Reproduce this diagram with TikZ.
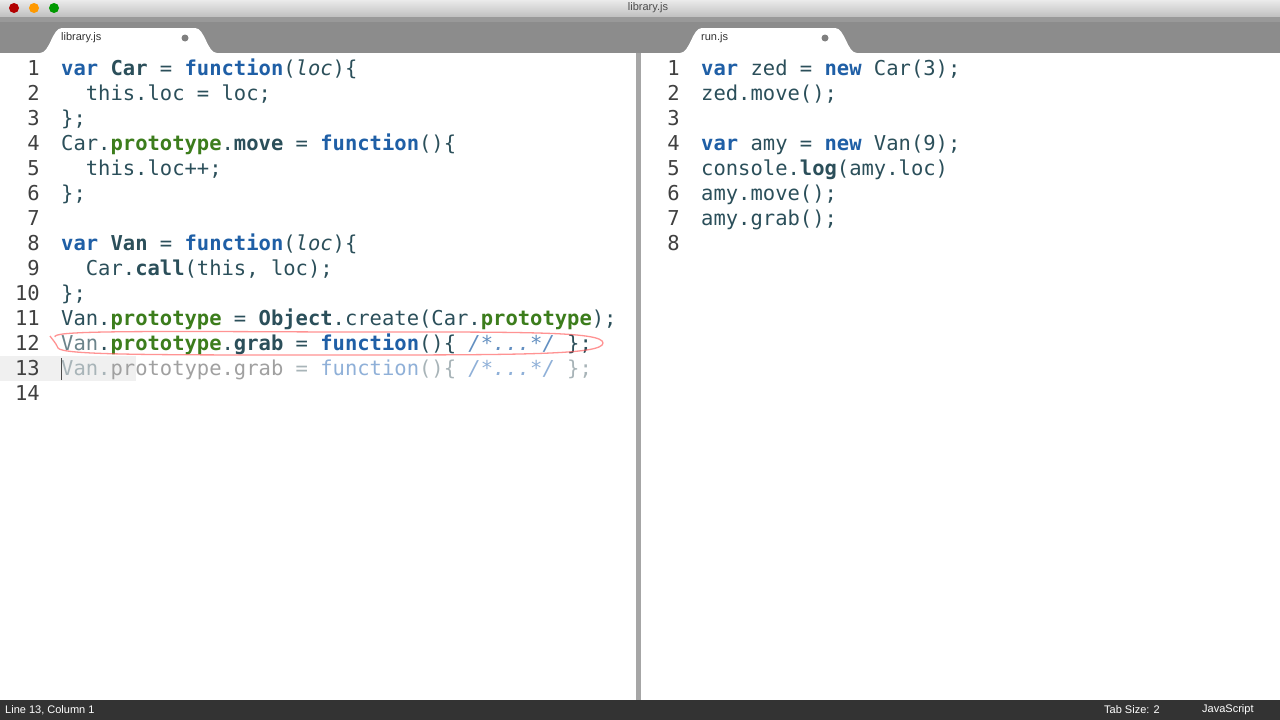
\documentclass[tikz,border=0pt]{standalone}
\usepackage{fontspec}
\setmonofont{DejaVu Sans Mono}
\setsansfont{Liberation Sans}
\definecolor{kwc}{HTML}{1F5FA6}
\definecolor{grc}{HTML}{3C7D1C}
\definecolor{txc}{HTML}{2B4F5A}
\definecolor{lkw}{HTML}{8FB0D8}
\definecolor{lgr}{HTML}{A0A0A0}
\definecolor{ltx}{HTML}{A8B4B8}
\newcommand{\kw}[1]{\textcolor{kwc}{\bfseries #1}}
\newcommand{\gr}[1]{\textcolor{grc}{\bfseries #1}}
\newcommand{\idb}[1]{\textcolor{txc}{\bfseries #1}}
\newcommand{\cm}[1]{\textcolor{kwc!70}{\itshape #1}}
\begin{document}
\begin{tikzpicture}[x=1pt,y=-1pt,
  code/.style={anchor=base west,inner sep=0,font=\ttfamily\fontsize{20.5}{25}\selectfont,text=txc},
  num/.style={anchor=base east,inner sep=0,font=\ttfamily\fontsize{20.5}{25}\selectfont,text=black!75},
  ui/.style={inner sep=0,font=\sffamily\fontsize{11}{13}\selectfont}]
\useasboundingbox (0,0) rectangle (1280,720);
\fill[white] (0,0) rectangle (1280,720);
% title bar
\shade[top color=black!8,bottom color=black!25] (0,0) rectangle (1280,17);
\foreach \x/\c in {14/red!70!black,34/orange!80!yellow,54/green!60!black}
  \fill[\c] (\x,8) circle (5);
\node[ui,text=black!70] (title) at (648,8) {library.js};
% tab bar
\fill[black!45] (0,17) rectangle (1280,53);
\fill[black!40] (0,17) rectangle (1280,22);
\fill[white] (40,53) .. controls (50,53) and (52,28) .. (62,28) -- (195,28) .. controls (205,28) and (207,53) .. (217,53) -- cycle;
\fill[white] (680,53) .. controls (690,53) and (692,28) .. (702,28) -- (835,28) .. controls (845,28) and (847,53) .. (857,53) -- cycle;
\node[ui,anchor=west,text=black!80] (tab1) at (61,38) {library.js};
\node[ui,anchor=west,text=black!80] (tab2) at (701,38) {run.js};
\fill[black!50] (185,38) circle (3.5);
\fill[black!50] (825,38) circle (3.5);
% divider
\fill[black!35] (636,53) rectangle (641,700);
% status bar
\fill[black!80] (0,700) rectangle (1280,720);
\node[ui,anchor=west,text=white] (st1) at (5,710) {Line 13, Column 1};
\node[ui,anchor=west,text=white] (st2) at (1104,710) {Tab Size: 2};
\node[ui,anchor=west,text=white] (st3) at (1202,710) {JavaScript};
% line numbers
\foreach \n in {1,...,14} \node[num] (ln\n) at (40,{75+25*(\n-1)}) {\n};
\foreach \n in {1,...,8} \node[num] (rn\n) at (680,{75+25*(\n-1)}) {\n};
\fill[black!6] (0,356) rectangle (136,381);
\node[num] at (40,375) {13};
% left code
\node[code] (l1) at (61,75) {\kw{var} \idb{Car} = \kw{function}(\textit{loc})\{};
\node[code] (l2) at (61,100) {\ \ this.loc = loc;};
\node[code] (l3) at (61,125) {\};};
\node[code] (l4) at (61,150) {Car.\gr{prototype}.\idb{move} = \kw{function}()\{};
\node[code] (l5) at (61,175) {\ \ this.loc++;};
\node[code] (l6) at (61,200) {\};};
\node[code] (l8) at (61,250) {\kw{var} \idb{Van} = \kw{function}(\textit{loc})\{};
\node[code] (l9) at (61,275) {\ \ Car.\idb{call}(this, loc);};
\node[code] (l10) at (61,300) {\};};
\node[code] (l11) at (61,325) {Van.\gr{prototype} = \idb{Object}.create(Car.\gr{prototype});};
\node[code] (l12) at (61,350) {\textcolor{txc!70}{Van}.\gr{prototype}.\idb{grab} = \kw{function}()\{ \cm{/*...*/} \};};
\node[code,text=ltx] (l13) at (61,375) {Van.\textcolor{lgr}{prototype.grab} = \textcolor{lkw}{function}()\{ \textcolor{lkw}{\itshape /*...*/} \};};
\draw[black!70] (61,358) -- (61,380);
% pink ellipse
\draw[red!60!pink,opacity=0.6,line width=1.3] (55,337) .. controls (52,331) and (120,331) .. (330,332) .. controls (520,332) and (603,331) .. (603,343) .. controls (603,355) and (520,355) .. (330,355) .. controls (150,355) and (62,355) .. (58,348) .. controls (56,343) and (52,339) .. (50,336);
% right code
\node[code] (r1) at (701,75) {\kw{var} zed = \kw{new} Car(3);};
\node[code] (r2) at (701,100) {zed.move();};
\node[code] (r4) at (701,150) {\kw{var} amy = \kw{new} Van(9);};
\node[code] (r5) at (701,175) {console.\idb{log}(amy.loc)};
\node[code] (r6) at (701,200) {amy.move();};
\node[code] (r7) at (701,225) {amy.grab();};
\end{tikzpicture}
\end{document}
